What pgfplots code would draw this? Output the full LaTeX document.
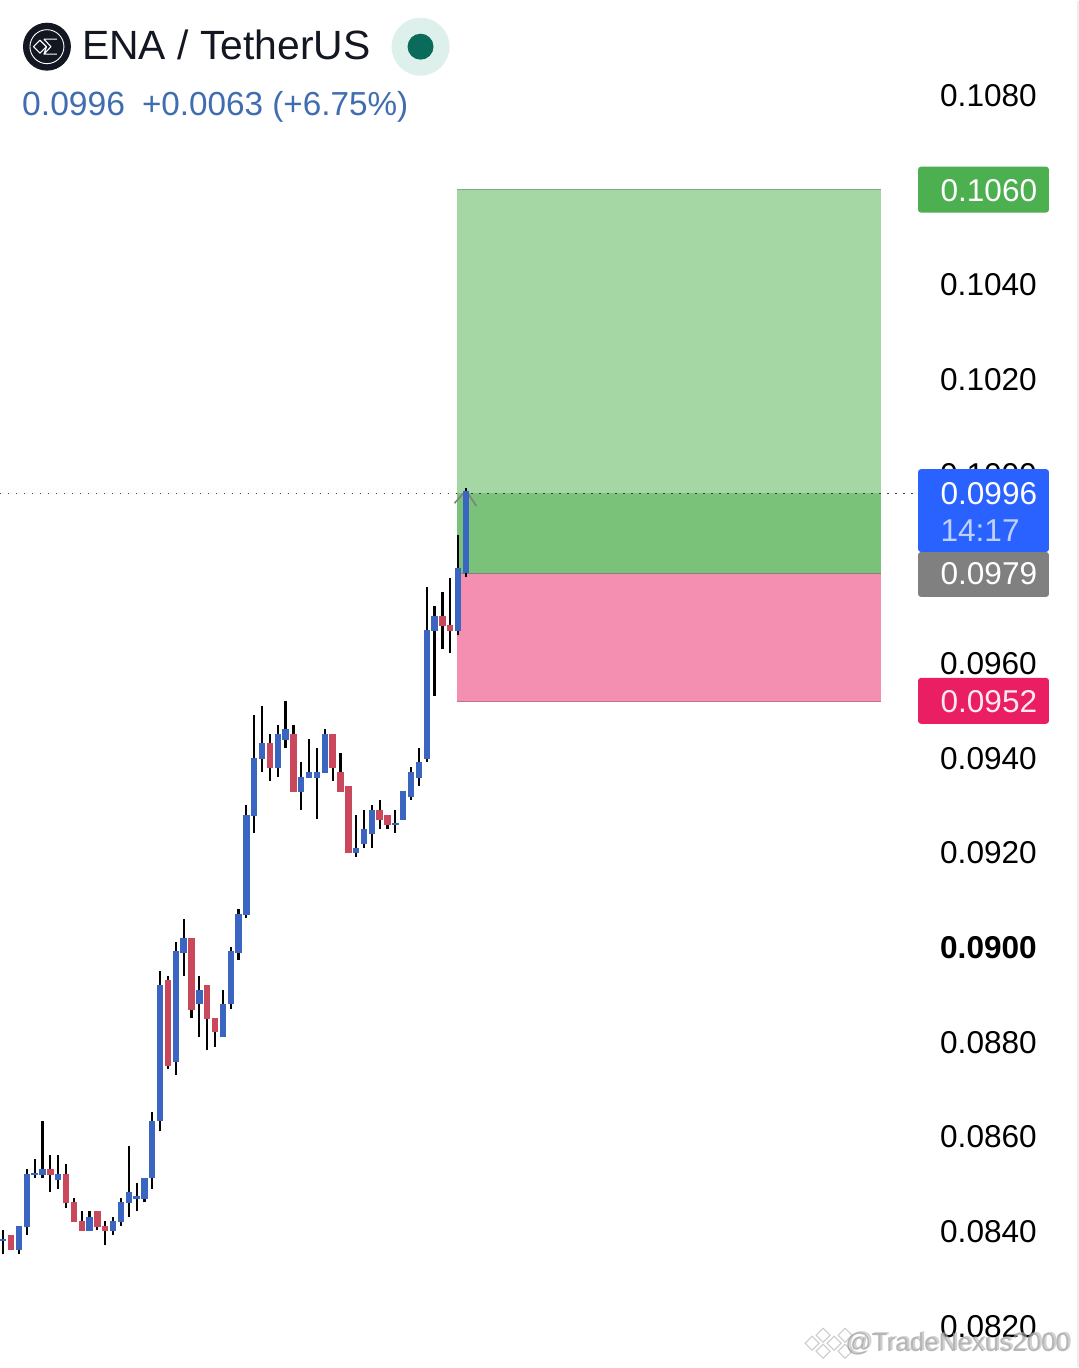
\documentclass[border=0pt]{standalone}
\usepackage{pgfplots}
\usepackage{pgfplotstable}
\usepackage{fontspec}
\setmainfont{Liberation Sans}
\pgfplotsset{compat=1.18}
\definecolor{upc}{RGB}{58,101,192}
\definecolor{downc}{RGB}{201,72,91}
\definecolor{tvtext}{RGB}{19,23,34}
\definecolor{hdrblue}{RGB}{63,109,176}
\definecolor{zonegreen}{RGB}{165,215,165}
\definecolor{zonegreendark}{RGB}{122,194,122}
\definecolor{zonepink}{RGB}{244,143,177}
\definecolor{taggreen}{RGB}{76,175,80}
\definecolor{tagblue}{RGB}{41,98,255}
\definecolor{taggray}{RGB}{128,128,128}
\definecolor{tagpink}{RGB}{233,30,99}
\definecolor{dotouter}{RGB}{221,240,236}
\definecolor{dotinner}{RGB}{10,107,90}
\pgfplotstableread{
i bot top low high
0 0.08380 0.08384 0.08352 0.08403
2 0.08361 0.08411 0.08352 0.08411
3 0.08409 0.08521 0.08392 0.08532
4 0.08519 0.08523 0.08513 0.08553
5 0.08519 0.08532 0.08513 0.08633
7 0.08510 0.08521 0.08491 0.08561
11 0.08401 0.08432 0.08401 0.08443
14 0.08401 0.08422 0.08392 0.08432
15 0.08420 0.08462 0.08411 0.08472
16 0.08460 0.08483 0.08432 0.08582
17 0.08470 0.08475 0.08443 0.08502
18 0.08470 0.08513 0.08462 0.08513
19 0.08513 0.08633 0.08491 0.08652
20 0.08633 0.08922 0.08612 0.08951
22 0.08759 0.08992 0.08732 0.09013
23 0.08989 0.09021 0.08941 0.09061
25 0.08880 0.08911 0.08812 0.08941
28 0.08812 0.08882 0.08812 0.08911
29 0.08880 0.08992 0.08871 0.09002
30 0.08989 0.09072 0.08973 0.09082
31 0.09070 0.09281 0.09063 0.09302
32 0.09279 0.09401 0.09243 0.09492
33 0.09399 0.09433 0.09371 0.09511
35 0.09380 0.09452 0.09361 0.09471
36 0.09439 0.09462 0.09422 0.09521
38 0.09329 0.09361 0.09291 0.09392
39 0.09359 0.09371 0.09359 0.09441
40 0.09359 0.09371 0.09272 0.09422
41 0.09369 0.09452 0.09369 0.09462
45 0.09200 0.09211 0.09192 0.09281
46 0.09219 0.09251 0.09211 0.09291
47 0.09241 0.09291 0.09211 0.09302
50 0.09260 0.09264 0.09243 0.09291
51 0.09270 0.09331 0.09270 0.09331
52 0.09319 0.09371 0.09312 0.09382
53 0.09359 0.09392 0.09342 0.09422
54 0.09399 0.09671 0.09392 0.09762
55 0.09669 0.09701 0.09532 0.09722
58 0.09669 0.09802 0.09660 0.09871
59 0.09791 0.09964 0.09783 0.09971
}\upcandles
\pgfplotstableread{
i bot top low high
1 0.08361 0.08392 0.08361 0.08392
6 0.08519 0.08532 0.08483 0.08561
8 0.08460 0.08521 0.08451 0.08542
9 0.08420 0.08462 0.08420 0.08472
10 0.08401 0.08422 0.08401 0.08443
12 0.08409 0.08443 0.08403 0.08443
13 0.08401 0.08411 0.08371 0.08422
21 0.08749 0.08932 0.08743 0.08941
24 0.08869 0.09021 0.08852 0.09021
26 0.08850 0.08922 0.08783 0.08922
27 0.08821 0.08852 0.08791 0.08852
34 0.09380 0.09433 0.09352 0.09452
37 0.09329 0.09452 0.09329 0.09471
42 0.09380 0.09452 0.09352 0.09452
43 0.09329 0.09371 0.09329 0.09411
44 0.09200 0.09342 0.09200 0.09342
48 0.09270 0.09291 0.09251 0.09312
49 0.09260 0.09281 0.09251 0.09281
56 0.09679 0.09701 0.09631 0.09751
57 0.09669 0.09682 0.09622 0.09781
}\downcandles
\newcommand{\pricefont}{\fontsize{31.6}{32}\selectfont}
\pgfplotsset{
  wick/.style={draw=none,mark=none,forget plot,
    error bars/.cd,y dir=plus,y explicit,error mark=none,
    error bar style={line width=2.2pt,black}},
  body/.style={draw=none,mark=none,forget plot,
    error bars/.cd,y dir=plus,y explicit,error mark=none,
    error bar style={line width=6.4pt,#1}},
}
\begin{document}
\begin{tikzpicture}
\fill[white] (0,0) rectangle (1080pt,1368pt);
\begin{axis}[
  at={(0,0)},anchor=south west,
  scale only axis,width=918pt,height=1368pt,
  xmin=-0.42,xmax=116.52,ymin=0.081136,ymax=0.110006,
  axis x line=none,
  y axis line style={draw=none},
  xtick=\empty,
  ytick={0.082,0.084,0.086,0.088,0.090,0.092,0.094,0.096,0.100,0.102,0.104,0.108},
  yticklabels={0.0820,0.0840,0.0860,0.0880,\textbf{0.0900},0.0920,0.0940,0.0960,0.1000,0.1020,0.1040,0.1080},
  ytick pos=right,yticklabel pos=right,
  major tick length=0pt,
  yticklabel style={anchor=west,xshift=23pt,inner sep=0pt,text=black,font=\pricefont},
  scaled y ticks=false,
  clip mode=individual,
  after end axis/.code={
    \fill[taggreen,rounded corners=3pt] (axis cs:116.65,0.1065) rectangle (axis cs:133.35,0.10553);
    \fill[tagpink,rounded corners=3pt] (axis cs:116.65,0.0957) rectangle (axis cs:133.35,0.09473);
    \fill[taggray,rounded corners=3pt] (axis cs:116.65,0.09836) rectangle (axis cs:133.35,0.09741);
    \fill[tagblue,rounded corners=3pt] (axis cs:116.65,0.10011) rectangle (axis cs:133.35,0.09836);
    \node[anchor=west,inner sep=0pt,text=white,font=\pricefont] at (axis cs:119.5,0.1060) {0.1060};
    \node[anchor=west,inner sep=0pt,text=white,font=\pricefont] at (axis cs:119.5,0.0996) {0.0996};
    \node[anchor=west,inner sep=0pt,text=white,text opacity=0.7,font=\pricefont] at (axis cs:119.5,0.09882) {14:17};
    \node[anchor=west,inner sep=0pt,text=white,font=\pricefont] at (axis cs:119.5,0.0979) {0.0979};
    \node[anchor=west,inner sep=0pt,text=white,text opacity=0.9,font=\pricefont] at (axis cs:119.5,0.0952) {0.0952};
  },
]
% position zones
\addplot[fill=zonegreen,draw=none,forget plot] coordinates {(57.9,0.0979)(111.94,0.0979)(111.94,0.10603)(57.9,0.10603)} --cycle;
\addplot[draw=zonegreen!80!black,line width=0.8pt,forget plot] coordinates {(57.9,0.10603)(111.94,0.10603)};
\addplot[fill=zonegreendark,draw=none,forget plot] coordinates {(57.9,0.0979)(111.94,0.0979)(111.94,0.0996)(57.9,0.0996)} --cycle;
\addplot[fill=zonepink,draw=none,forget plot] coordinates {(57.9,0.0952)(111.94,0.0952)(111.94,0.0979)(57.9,0.0979)} --cycle;
\addplot[draw=zonepink!80!black,line width=0.8pt,forget plot] coordinates {(57.9,0.0952)(111.94,0.0952)};
\addplot[draw=gray,line width=1.4pt,forget plot] coordinates {(57.9,0.0979)(111.94,0.0979)};
% last price line
\addplot[draw=black!75,line width=1.5pt,dash pattern=on 1.5pt off 6.5pt,forget plot] coordinates {(-0.42,0.0996)(116.65,0.0996)};
% marker chevron
\addplot[draw=gray,line width=1.6pt,forget plot] coordinates {(57.54,0.09939)(59,0.09966)(60.33,0.09933)};
% candles
\addplot[wick] table[x=i,y=low,y error plus expr=\thisrow{high}-\thisrow{low}] {\upcandles};
\addplot[wick] table[x=i,y=low,y error plus expr=\thisrow{high}-\thisrow{low}] {\downcandles};
\addplot[body=upc] table[x=i,y=bot,y error plus expr=\thisrow{top}-\thisrow{bot}] {\upcandles};
\addplot[body=downc] table[x=i,y=bot,y error plus expr=\thisrow{top}-\thisrow{bot}] {\downcandles};
\end{axis}
% header and furniture, in page pixels measured from the top
\begin{scope}[x=1pt,y=-1pt,yshift=1368pt]
  \draw[black!7,line width=1.5pt] (1079,0) -- (1079,1368);
  \fill[tvtext] (47,46) circle (24);
  \draw[white,line width=0.9pt] (47,46) circle (17);
  \draw[white,line width=1.1pt,line join=round] (40,39.5) -- (46.5,46) -- (40,52.5) -- (33.5,46) -- cycle;
  \draw[white,line width=1.1pt,line join=round] (57,38.5) -- (44,38.5) (46.5,46) -- (44,53.5) -- (57,53.5) (44,38.5) -- (51,46) -- (44,53.5);
  \node[anchor=base west,inner sep=0pt,text=tvtext,font=\fontsize{40.9}{41}\selectfont] at (82,59) {ENA / TetherUS};
  \fill[dotouter] (421,46) circle (29);
  \fill[dotinner] (421,46) circle (13);
  \node[anchor=base west,inner sep=0pt,text=hdrblue,font=\fontsize{33.7}{34}\selectfont] at (22,115) {0.0996};
  \node[anchor=base west,inner sep=0pt,text=hdrblue,font=\fontsize{33.3}{34}\selectfont] at (142,115) {+0.0063 (+6.75\%)};
  % watermark
  \foreach \dx/\dy in {813/1344,824/1336,824/1352,835/1344,846/1336,846/1352}
    \draw[black!20,line width=1pt] (\dx-7,\dy) -- (\dx,\dy-7) -- (\dx+7,\dy) -- (\dx,\dy+7) -- cycle;
  \node[anchor=base west,inner sep=0pt,text=black!40,text opacity=0.7,font=\fontsize{26}{26}\selectfont] at (846,1352) {@TradeNexus2000};
  \node[anchor=base west,inner sep=0pt,text=black!30,text opacity=0.6,font=\fontsize{26}{26}\selectfont] at (848,1351) {@TradeNexus2000};
\end{scope}
\end{tikzpicture}
\end{document}
